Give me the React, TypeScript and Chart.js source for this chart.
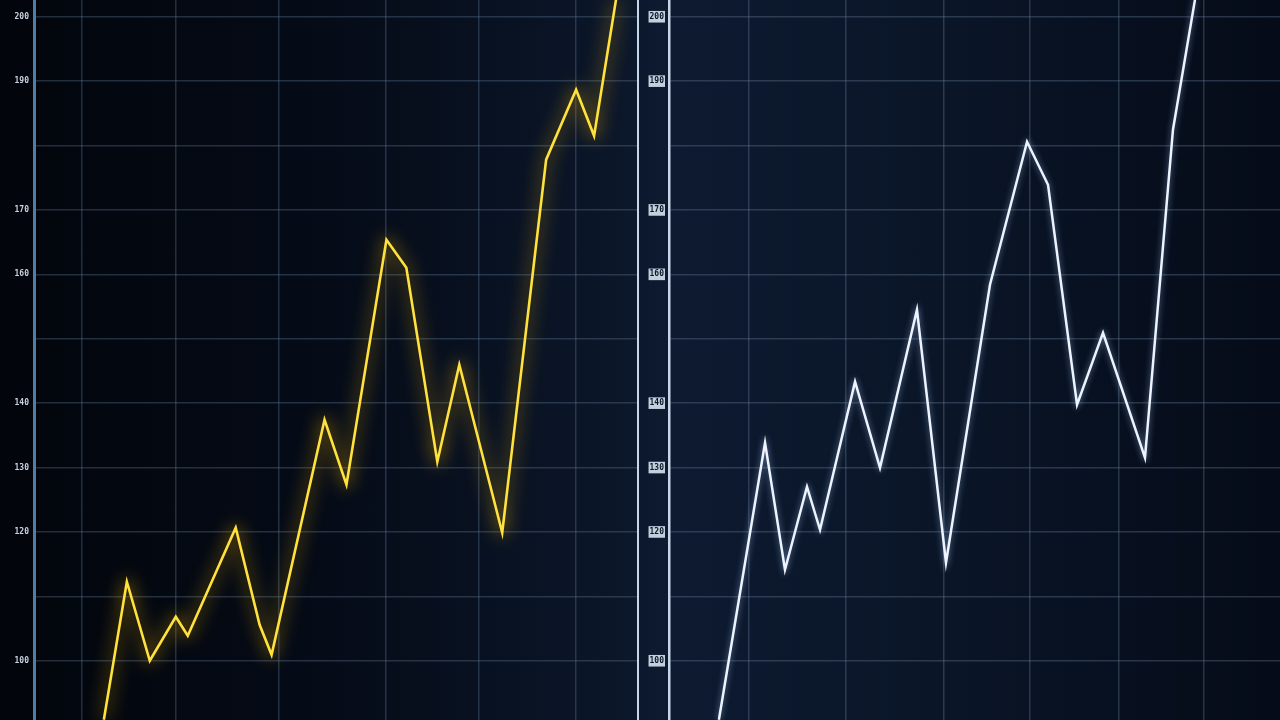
import React, { useEffect, useRef } from "react";
import { Chart, registerables } from "chart.js";

Chart.register(...registerables);

// ---- Data ----
const yGridValues = [100, 110, 120, 130, 140, 150, 160, 170, 180, 190, 200];
const yLabeledValues = [100, 120, 130, 140, 160, 170, 190, 200];
const yMin = 90.8;
const yMax = 202.6;

const leftXGrid = [4.8, 14.1, 24.4, 35.0, 44.3, 53.9];
const leftX = [6.95, 9.24, 11.52, 14.11, 15.3, 20.07, 22.45, 23.64, 28.91, 31.09, 35.07, 37.05, 40.13, 42.32, 46.59, 50.96, 53.94, 55.73, 57.91];
const leftY = [90.84, 112.27, 100.0, 106.83, 103.88, 120.65, 105.59, 100.93, 137.42, 127.33, 165.37, 161.02, 130.9, 145.96, 119.88, 177.8, 188.66, 181.52, 202.64];

const rightXGrid = [7.86, 17.38, 27.0, 35.45, 44.19, 52.54];
const rightX = [4.9, 9.43, 11.39, 13.55, 14.83, 18.27, 20.72, 24.35, 27.2, 31.52, 35.16, 37.22, 40.07, 42.62, 46.74, 49.49, 51.65];
const rightY = [90.84, 133.85, 114.13, 127.02, 120.34, 143.32, 129.97, 154.5, 115.22, 158.39, 180.59, 173.91, 139.75, 150.93, 131.52, 182.45, 202.64];

const glowPlugin = {
  id: "glow",
  beforeDatasetDraw(chart: any, args: any) {
    const ds = chart.data.datasets[args.index];
    const ctx = chart.ctx;
    ctx.save();
    ctx.shadowColor = ds.glowColor || "transparent";
    ctx.shadowBlur = ds.glowBlur || 0;
  },
  afterDatasetDraw(chart: any) {
    chart.ctx.restore();
  },
};

type PanelProps = {
  xs: number[];
  ys: number[];
  xGrid: number[];
  lineColor: string;
  lineWidth: number;
  glowColor: string;
  glowBlur: number;
  axisColor: string;
  axisWidth: number;
  axisSpace: number;
  gridColor: string;
  labelColor: string;
  labelBackdrop: string | null;
};

function Panel(p: PanelProps) {
  const ref = useRef<HTMLCanvasElement | null>(null);
  useEffect(() => {
    if (!ref.current) return;
    const points = p.xs.map((x, i) => ({ x, y: p.ys[i] }));
    const isLabeled = (v: any) => yLabeledValues.includes(Number(v));
    const chart = new Chart(ref.current, {
      type: "line",
      data: {
        datasets: [
          {
            data: points,
            borderColor: p.lineColor,
            borderWidth: p.lineWidth,
            pointRadius: 0,
            tension: 0,
            fill: false,
            // @ts-ignore
            glowColor: p.glowColor,
            glowBlur: p.glowBlur,
          } as any,
        ],
      },
      options: {
        animation: false,
        responsive: true,
        maintainAspectRatio: false,
        layout: { padding: 0 },
        plugins: { legend: { display: false }, tooltip: { enabled: false } },
        scales: {
          x: {
            type: "linear",
            min: 0,
            max: 60,
            afterBuildTicks: (scale: any) => {
              scale.ticks = p.xGrid.map((v) => ({ value: v }));
            },
            afterFit: (scale: any) => {
              scale.height = 0;
              scale.paddingLeft = 0;
              scale.paddingRight = 0;
            },
            ticks: { display: false },
            grid: { color: p.gridColor, lineWidth: 1.5, drawTicks: false },
            border: { display: false },
          },
          y: {
            type: "linear",
            min: yMin,
            max: yMax,
            afterBuildTicks: (scale: any) => {
              scale.ticks = yGridValues.map((v) => ({ value: v }));
            },
            afterFit: (scale: any) => {
              scale.width = p.axisSpace;
              scale.paddingTop = 0;
              scale.paddingBottom = 0;
            },
            ticks: {
              callback: (v: any) => (isLabeled(v) ? String(v) : ""),
              color: p.labelColor,
              font: { family: "DejaVu Sans Mono", size: 8, weight: "bold" },
              padding: 5,
              showLabelBackdrop: !!p.labelBackdrop,
              backdropColor: (ctx: any) =>
                p.labelBackdrop && ctx.tick && isLabeled(ctx.tick.value) ? p.labelBackdrop : "rgba(0,0,0,0)",
              backdropPadding: 1,
            } as any,
            grid: { color: p.gridColor, lineWidth: 1.5, drawTicks: false },
            border: { display: true, color: p.axisColor, width: p.axisWidth },
          },
        },
      },
      plugins: [glowPlugin],
    });
    return () => chart.destroy();
  }, []);
  return <canvas ref={ref} />;
}

export default function App() {
  return (
    <div
      style={{
        position: "fixed",
        left: 0,
        top: 0,
        width: 1280,
        height: 720,
        overflow: "hidden",
        background:
          "linear-gradient(90deg, #02050b 0%, #050b17 25%, #0b1629 48%, #0d1a30 52%, #0a1527 75%, #050b18 100%)",
      }}
    >
      <div style={{ position: "absolute", left: 0, top: 0, width: 637, height: 720 }}>
        <Panel
          xs={leftX}
          ys={leftY}
          xGrid={leftXGrid}
          lineColor="#ffe23d"
          lineWidth={2.6}
          glowColor="rgba(255,185,0,1)"
          glowBlur={18}
          axisColor="#4f7ea8"
          axisWidth={3}
          axisSpace={34}
          gridColor="rgba(95,120,150,0.36)"
          labelColor="#c9d3de"
          labelBackdrop={null}
        />
      </div>
      <div
        style={{
          position: "absolute",
          left: 637,
          top: 0,
          width: 641,
          height: 720,
          borderLeft: "2px solid #c6d6e8",
        }}
      >
        <Panel
          xs={rightX}
          ys={rightY}
          xGrid={rightXGrid}
          lineColor="#eef4ff"
          lineWidth={2.5}
          glowColor="rgba(170,205,255,0.6)"
          glowBlur={6}
          axisColor="#c6d6e8"
          axisWidth={2.5}
          axisSpace={30}
          gridColor="rgba(110,135,165,0.33)"
          labelColor="#0b1628"
          labelBackdrop="#c2d0de"
        />
      </div>
    </div>
  );
}
